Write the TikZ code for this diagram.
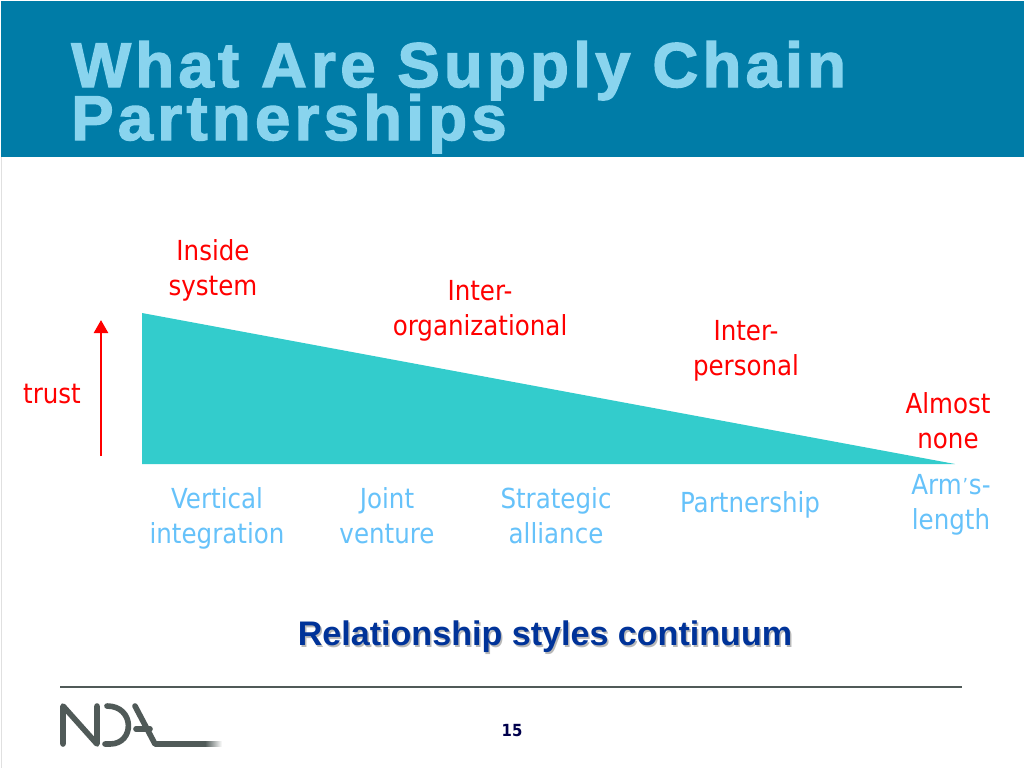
\documentclass[tikz,border=0pt]{standalone}
\usepackage{fontspec}
\usetikzlibrary{arrows.meta}
\setmainfont[FakeStretch=0.89]{DejaVu Sans}
\newfontfamily\titlefont[FakeBold=2.2,LetterSpace=7]{Liberation Sans Bold}
\newfontfamily\captionfont{Liberation Sans}
\definecolor{bannerblue}{RGB}{0,124,167}
\definecolor{titleblue}{RGB}{137,212,238}
\definecolor{wedgeteal}{RGB}{51,204,204}
\definecolor{stylesblue}{RGB}{102,194,250}
\definecolor{captionblue}{RGB}{0,51,153}
\definecolor{logogrey}{RGB}{80,90,88}
\begin{document}
\begin{tikzpicture}[x=0.02cm,y=-0.02cm,>=stealth]

\tikzset{%
title line/.style={
anchor=base west,
inner sep=0pt,
text=titleblue,
font=\titlefont\fontsize{36}{36}\selectfont
},
trust label/.style={
align=center,
anchor=base,
inner sep=0pt,
text=red,
font=\fontsize{15.7}{19.4}\selectfont
},
style label/.style={
align=center,
anchor=base,
inner sep=0pt,
text=stylesblue,
font=\fontsize{15.7}{19.4}\selectfont
},
logo line/.style={
draw=logogrey,
line width=3.2pt,
line cap=round,
line join=round
},
}

\useasboundingbox (0,0) rectangle (1024,768);
\fill [white] (0,0) rectangle (1024,768);

% Banner and title
\fill [bannerblue] (1,1) rectangle (1024,157);
\draw [black!12, thick] (1.5,157) -- (1.5,768);
\node [title line] (title-1) at (71,87) {What Are Supply Chain};
\node [title line] (title-2) at (71,140) {Partnerships};

% Wedge
\fill [wedgeteal] (142,313) -- (142,464) -- (955,464) -- cycle;

% Trust arrow
\coordinate (trust-base) at (101,456);
\coordinate (trust-top) at (101,320);
\draw [red, line width=1.6pt, -{Triangle[length=7.5pt,width=8pt]}] (trust-base) -- (trust-top);
\node [trust label] (trust) at (52,403) {trust};

% Labels above the wedge
\foreach \n/\x/\y/\l in {inside/213/295/{Inside\\system},
organizational/480/335/{Inter-\\organizational},
personal/746/375/{Inter-\\personal},
none/948/448/{Almost\\none}}
\node [trust label] (level-\n) at (\x,\y) {\l};

% Labels below the wedge
\foreach \n/\x/\y/\l in {vertical/217/543/{Vertical\\integration},
joint/387/543/{Joint\\venture},
strategic/556/543/{Strategic\\alliance},
partnership/750/512/{Partnership},
arms/951/529/{Arm\raisebox{1.5pt}{\fontsize{11}{11}\selectfont\kern0.5pt’\kern0.5pt}s-\\length}}
\node [style label] (style-\n) at (\x,\y) {\l};

% Caption with its shadow
\node [inner sep=0pt, text=black!28, font=\captionfont\fontsize{19.4}{20}\selectfont\bfseries] (caption-shadow) at (546.5,639) {Relationship styles continuum};
\node [inner sep=0pt, text=captionblue, font=\captionfont\fontsize{19.4}{20}\selectfont\bfseries] (caption) at (545,637) {Relationship styles continuum};

% Footer rule and page number
\draw [logogrey, line width=1.1pt] (60,687) -- (962,687);
\node [inner sep=0pt, text=black!50!blue!60!black, font=\fontsize{9.5}{10}\selectfont\bfseries] (page) at (512,731) {15};

% Logo
\draw [logo line] (63,744) -- (63,706) -- (97,744) -- (97,706);
\draw [logo line] (105,744) -- (110,744) .. controls (135,744) and (135,706) .. (107,706);
\draw [logo line] (136,729) -- (150,729);
\draw [logo line] (135,706) -- (155,744) -- (205,744);
\shade [left color=logogrey, right color=white] (205,741.8) rectangle (222,746.2);

\end{tikzpicture}
\end{document}
